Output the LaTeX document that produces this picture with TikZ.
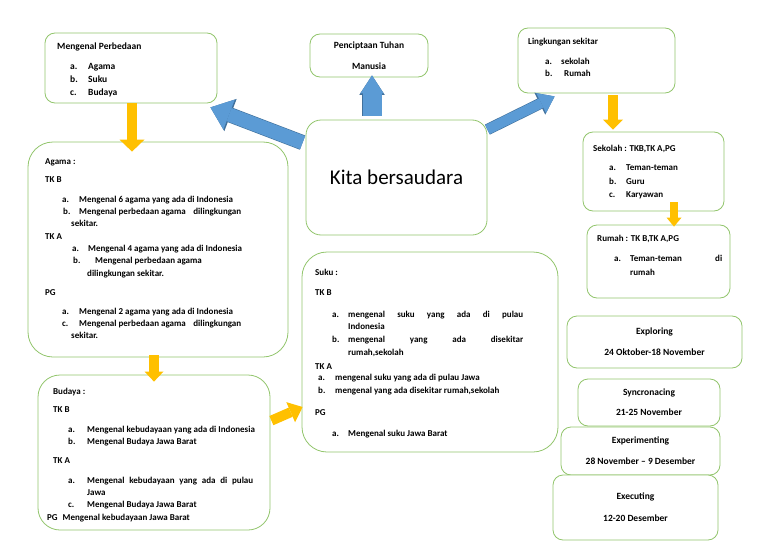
\documentclass[tikz,border=0pt]{standalone}
\usepackage{fontspec}
\setmainfont{Carlito}
\usetikzlibrary{positioning,calc,arrows.meta}
\definecolor{boxgreen}{HTML}{92C56C}
\definecolor{arrowblue}{HTML}{5B9BD5}
\definecolor{arrowbluedark}{HTML}{41719C}
\definecolor{arrowgold}{HTML}{FFC000}
\newcommand{\itm}[4]{\hspace*{#1pt}\makebox[#2pt][l]{#3}#4}

\begin{document}
\begin{tikzpicture}
  % Set up styles
  [x=1pt, y=-1pt,
   box/.style={draw=boxgreen, fill=white, line width=0.8pt, rounded corners=10pt},
   txt/.style={anchor=north west, align=left, inner sep=0pt, font=\fontsize{9}{12}\selectfont\bfseries},
   mid/.style={align=center, font=\fontsize{9.5}{12}\selectfont\bfseries},
   bluearrow/.style n args={3}{preaction={draw=arrowbluedark, line width=#1+1.2pt, -{Triangle[length=#2+1.5pt, width=#3+2.5pt, line width=0pt]}},
     draw=arrowblue, line width=#1, -{Triangle[length=#2, width=#3, line width=0pt]}},
   goldarrow/.style n args={3}{draw=arrowgold, line width=#1, -{Triangle[length=#2, width=#3, line width=0pt]}}]

  \useasboundingbox (0,0) rectangle (768,543);

  % Set up boxes
  \node[box, minimum width=172, minimum height=70] (perbedaan) at (131,68) {};
  \node[box, mid, minimum width=118, minimum height=43] (pencipta) at (369,55.5) {Penciptaan Tuhan\\[9pt]Manusia};
  \node[box, rounded corners=15pt, minimum width=181, minimum height=115, font=\fontsize{21}{24}\selectfont] (kita) at (396.5,177.5) {Kita bersaudara};
  \node[box, minimum width=157, minimum height=65] (lingkungan) at (596.5,60.5) {};
  \node[box, minimum width=141, minimum height=79] (sekolah) at (653.5,171.5) {};
  \node[box, minimum width=143, minimum height=73] (rumah) at (658.5,261.5) {};
  \node[box, rounded corners=25pt, minimum width=260, minimum height=215] (agama) at (158,249.5) {};
  \node[box, rounded corners=22pt, minimum width=232, minimum height=155] (budaya) at (154,452.5) {};
  \node[box, rounded corners=25pt, minimum width=256, minimum height=200] (suku) at (430,352) {};
  \node[box, mid, minimum width=175, minimum height=52] (exploring) at (654.5,342) {Exploring\\[9pt]24 Oktober-18 November};
  \node[box, mid, minimum width=142, minimum height=47] (syncron) at (649,402.5) {Syncronacing\\[8pt]21-25 November};
  \node[box, mid, minimum width=159, minimum height=48] (experiment) at (640.5,451) {Experimenting\\[9pt]28 November – 9 Desember};
  \node[box, mid, minimum width=165, minimum height=65] (executing) at (635.5,507.5) {Executing\\[10pt]12-20 Desember};

  % Texts inside the boxes
  \node[txt, font=\fontsize{9.5}{13}\selectfont\bfseries] (perbedaan-t) at (57,43) {Mengenal Perbedaan\\[7pt]
    \itm{13}{18}{a.}{Agama}\\ \itm{13}{18}{b.}{Suku}\\ \itm{13}{18}{c.}{Budaya}};
  \node[txt] (lingkungan-t) at (528,38) {Lingkungan sekitar\\[8pt]
    \itm{17}{16}{a.}{sekolah}\\ \itm{17}{19}{b.}{Rumah}};
  \node[txt] (sekolah-t) at (593,145) {Sekolah : TKB,TK A,PG\\[7pt]
    \itm{16}{17}{a.}{Teman-teman}\\[2pt] \itm{16}{17}{b.}{Guru}\\[1pt] \itm{16}{17}{c.}{Karyawan}};
  \node[txt] (rumah-t) at (597,235) {Rumah : TK B,TK A,PG\\[8pt]
    \itm{17}{16}{a.}{\makebox[92pt][s]{Teman-teman di}}\\[2pt] \hspace*{33pt}rumah};
  \node[txt] (agama-t) at (45,158) {Agama :\\[6pt] TK B\\[8pt]
    \itm{17}{17}{a.}{Mengenal 6 agama yang ada di Indonesia}\\
    \itm{18}{16}{b.}{\makebox[162pt][l]{Mengenal perbedaan agama\hfill dilingkungan}}\\
    \hspace*{26pt}sekitar.\\[1pt] TK A\\
    \itm{27}{16}{a.}{Mengenal 4 agama yang ada di Indonesia}\\
    \itm{28}{22}{b.}{Mengenal perbedaan agama}\\[1pt]
    \hspace*{42pt}dilingkungan sekitar.\\[7pt] PG\\[7pt]
    \itm{17}{17}{a.}{Mengenal 2 agama yang ada di Indonesia}\\
    \itm{17}{17}{c.}{\makebox[162pt][l]{Mengenal perbedaan agama\hfill dilingkungan}}\\
    \hspace*{26pt}sekitar.};
  \node[txt] (budaya-t) at (53,388) {Budaya :\\[6pt] TK B\\[8pt]
    \itm{15}{19}{a.}{Mengenal kebudayaan yang ada di Indonesia}\\
    \itm{15}{19}{b.}{Mengenal Budaya Jawa Barat}\\[7pt] TK A\\[8pt]
    \itm{15}{19}{a.}{\makebox[166pt][s]{Mengenal kebudayaan yang ada di pulau}}\\
    \hspace*{34pt}Jawa\\
    \itm{15}{19}{c.}{Mengenal Budaya Jawa Barat}\\[1pt]
    \hspace*{-6pt}PG\hspace{5pt}Mengenal kebudayaan Jawa Barat};
  \node[txt] (suku-t) at (315,269) {Suku :\\[8pt] TK B\\[10pt]
    \itm{17}{16}{a.}{\makebox[175pt][s]{mengenal suku yang ada di pulau}}\\
    \hspace*{33pt}Indonesia\\[1pt]
    \itm{17}{16}{b.}{\makebox[175pt][s]{mengenal yang ada disekitar}}\\[1pt]
    \hspace*{33pt}rumah,sekolah\\[2pt] TK A\\[-1pt]
    \itm{3}{17}{a.}{mengenal suku yang ada di pulau Jawa}\\[1pt]
    \itm{3}{17}{b.}{mengenal yang ada disekitar rumah,sekolah}\\[10pt] PG\\[9pt]
    \itm{17}{16}{a.}{Mengenal suku Jawa Barat}};

  % Draw arrows
  \draw[bluearrow={14pt}{20pt}{32pt}] ($(kita.north west)+(-3,23)$) -- ($(perbedaan.south east)+(-7,4)$);
  \draw[bluearrow={19pt}{18pt}{23pt}] ($(kita.north)+(-24.5,-4)$) -- ($(pencipta.south)+(3,-2)$);
  \draw[bluearrow={10pt}{15pt}{22pt}] ($(kita.north east)+(0,10)$) -- ($(lingkungan.south west)+(37,3)$);
  \draw[goldarrow={10pt}{12pt}{25pt}] ($(perbedaan.south)+(1,0)$) -- ($(perbedaan.south |- agama.north)+(1,10)$);
  \draw[goldarrow={10pt}{10pt}{19pt}] ($(budaya.north |- agama.south)+(0,-2)$) -- ($(budaya.north)+(0,7)$);
  \draw[goldarrow={10pt}{13pt}{22pt}] ($(budaya.north east)+(1,46)$) -- ($(suku.west)+(1,55)$);
  \draw[goldarrow={10pt}{10pt}{20pt}] ($(lingkungan.south)+(16.5,2)$) -- ($(sekolah.north)+(-40.5,-2)$);
  \draw[goldarrow={8pt}{9pt}{15pt}] ($(sekolah.south)+(20.5,-9)$) -- ($(rumah.north)+(15.5,2)$);

\end{tikzpicture}
\end{document}
